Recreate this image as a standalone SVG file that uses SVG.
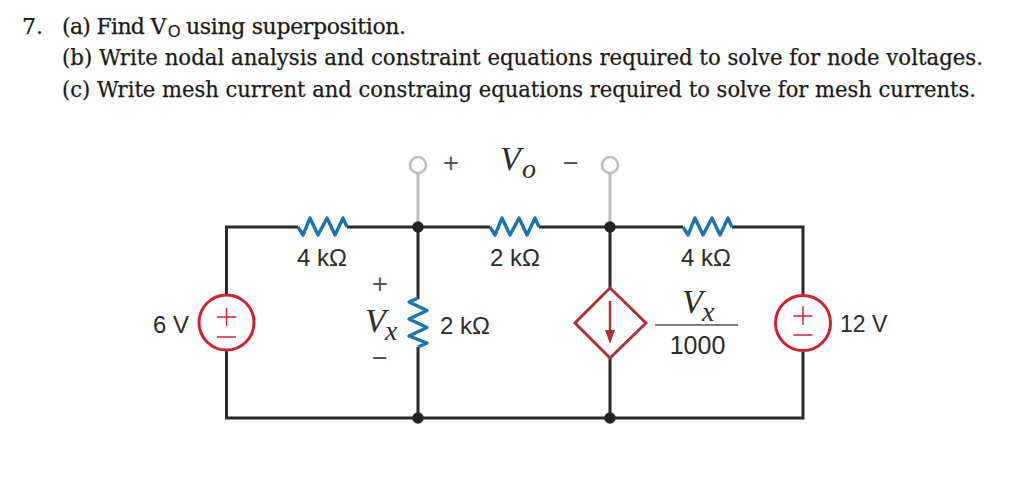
<svg xmlns="http://www.w3.org/2000/svg" width="1024" height="487" viewBox="0 0 1024 487">
<style>
.q{font-family:"DejaVu Serif","Liberation Serif",serif;font-size:22px;fill:#1a1a1a;stroke:#1a1a1a;stroke-width:.25}
.o{font-family:"Liberation Sans",Arial,sans-serif;font-size:16px}
.l{font-family:"Liberation Sans",Arial,sans-serif;font-size:24px;fill:#2b2b2b}
.v{font-family:"Liberation Serif","Times New Roman",serif;font-style:italic;fill:#2b2b2b}
.s{font-family:"Liberation Sans",Arial,sans-serif;font-size:27px;fill:#555;text-anchor:middle}
.w{fill:none;stroke:#2b2b2b;stroke-width:3}
.t{fill:none;stroke:#bdbdbd;stroke-width:3}
.r{fill:none;stroke:#1a76ab;stroke-width:3.400;stroke-linejoin:round}
.c{fill:#fff;stroke:#cf2233;stroke-width:3}
.p{fill:none;stroke:#cf2233;stroke-width:1.400}
.n{fill:#222}
</style>
<rect width="1024" height="487" fill="#fff"/>
<g id="question">
<text class="q" x="22" y="34">7.</text>
<text class="q" x="62" y="34"><tspan letter-spacing="-0.7">(a) Find V</tspan><tspan class="o" x="168" dy="3">O</tspan><tspan x="186" dy="-3" letter-spacing="-0.35">using superposition.</tspan></text>
<text class="q" x="62" y="65" textLength="921" lengthAdjust="spacingAndGlyphs">(b) Write nodal analysis and constraint equations required to solve for node voltages.</text>
<text class="q" x="62" y="97" textLength="914" lengthAdjust="spacingAndGlyphs">(c) Write mesh current and constraing equations required to solve for mesh currents.</text>
</g>
<g id="connectors">
<path class="t" d="M418 174V227M610 174V227"/>
<path class="w" d="M298 227H226.500V294M226.500 351V418H803V352M803 294V227H732M683 227H539M490 227H347M418 227V299M418 347V418M610 227V288M610 358V418"/>
</g>
<g id="terminal-plus"><circle cx="418" cy="165" r="8" fill="#fff" stroke="#bdbdbd" stroke-width="2.500"/></g>
<g id="terminal-minus"><circle cx="610" cy="165" r="8" fill="#fff" stroke="#bdbdbd" stroke-width="2.500"/></g>
<g id="vo-label">
<text class="s" x="451" y="172">+</text>
<text class="v" x="500" y="170" font-size="34">V</text>
<text class="v" x="522" y="178" font-size="28">o</text>
<text class="s" x="571" y="172">−</text>
</g>
<g id="node-a"><circle class="n" cx="418" cy="227" r="5.700"/></g>
<g id="node-b"><circle class="n" cx="610" cy="227" r="5.700"/></g>
<g id="node-c"><circle class="n" cx="418" cy="418" r="5.700"/></g>
<g id="node-d"><circle class="n" cx="610" cy="418" r="5.700"/></g>
<g id="r1">
<path class="r" d="M298 227L303 235L310 218L318 235L327 218L335 235L343 218L347 227"/>
<text class="l" x="322" y="266" text-anchor="middle">4 kΩ</text>
</g>
<g id="r2">
<path class="r" d="M490 227L495 235L502 218L510 235L519 218L527 235L535 218L539 227"/>
<text class="l" x="515" y="266" text-anchor="middle">2 kΩ</text>
</g>
<g id="r3">
<path class="r" d="M683 227L688 235L695 218L703 235L712 218L720 235L728 218L732 227"/>
<text class="l" x="706" y="266" text-anchor="middle">4 kΩ</text>
</g>
<g id="r4">
<path class="r" d="M418 298L409 302L427 310.500L409 319L427 327.500L409 336L427 343L418 347"/>
<text class="l" x="465" y="334" text-anchor="middle">2 kΩ</text>
</g>
<g id="vx-label">
<text class="s" x="380" y="293">+</text>
<text class="v" x="365" y="332" font-size="34">V</text>
<text class="v" x="385" y="340" font-size="28">x</text>
<text class="s" x="380" y="367">−</text>
</g>
<g id="source-6v">
<circle class="c" cx="226.500" cy="322.500" r="27.500"/>
<path class="p" d="M217 317H236M226.500 308V326M217 337H236"/>
<text class="l" x="153" y="333">6 V</text>
</g>
<g id="source-12v">
<circle class="c" cx="803" cy="323" r="27.500"/>
<path class="p" d="M793.500 316H812.500M803 306V325M793.500 335H812.500"/>
<text class="l" x="840" y="332" style="font-size:23px">12 V</text>
</g>
<g id="dependent-source">
<path d="M610 288L646 323L610 358L575 323Z" fill="#fff" stroke="#a83438" stroke-width="3"/>
<path d="M610 301V332" stroke="#a83438" stroke-width="2.500"/>
<path d="M605 330H615L610 344Z" fill="#a83438"/>
<text class="v" x="682" y="313" font-size="34">V</text>
<text class="v" x="702" y="321" font-size="28">x</text>
<path d="M655 325H738" stroke="#555" stroke-width="1.500"/>
<text class="l" x="697.500" y="354" text-anchor="middle" style="font-size:25px">1000</text>
</g>
</svg>
